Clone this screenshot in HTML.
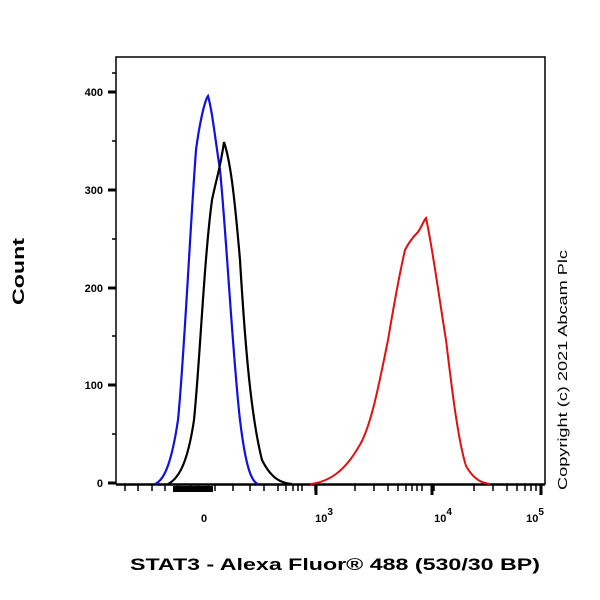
<!DOCTYPE html><html><head><style>body{margin:0;background:#fff}svg{display:block}text{font-family:"Liberation Sans",Arial,sans-serif}</style></head><body>
<svg width="600" height="600" viewBox="0 0 600 600">
<rect x="116" y="57" width="429" height="427" fill="none" stroke="#000" stroke-width="1.5"/>
<g stroke="#000" stroke-width="1.5">
<line x1="108" y1="483" x2="116" y2="483" stroke-width="3"/><line x1="108" y1="385" x2="116" y2="385" stroke-width="3"/><line x1="108" y1="288" x2="116" y2="288" stroke-width="3"/><line x1="108" y1="190" x2="116" y2="190" stroke-width="3"/><line x1="108" y1="92" x2="116" y2="92" stroke-width="3"/>
<line x1="112" y1="434" x2="116" y2="434"/><line x1="112" y1="336" x2="116" y2="336"/><line x1="112" y1="239" x2="116" y2="239"/><line x1="112" y1="141" x2="116" y2="141"/><line x1="112" y1="73" x2="116" y2="73"/>
<line x1="116" y1="485" x2="545" y2="485"/>
</g>
<g stroke="#000" stroke-width="1.5">
<path d="M125 485v6M138 485v6M152 485v6M165 485v6M178 485v6M191 485v6M198 485v6M208 485v6M215 485v6M233 485v6M250 485v6M264 485v6M278 485v6M286 485v6M293 485v6M298 485v6M302 485v6M315 485v6M355 485v6M374 485v6M388 485v6M398 485v6M406 485v6M412 485v6M417 485v6M422 485v6M434 485v6M474 485v6M493 485v6M507 485v6M517 485v6M525 485v6M531 485v6M536 485v6"/>
<path d="M316 485v10M432 485v10M541 485v10" stroke-width="3"/>
<path d="M173 486h40v6h-40z" fill="#000" stroke="none"/>
</g>
<path d="M155 484 C165 480,172 460,178 420 C184 360,190 230,196 150 C200 120,205 100,208 96 C212 110,214 130,220 170 C226 230,233 360,240 420 C246 470,252 482,258 484" fill="none" stroke="#1010e0" stroke-width="2.2"/>
<path d="M168 484 C180 478,188 460,194 420 C200 360,204 260,212 200 C216 180,220 170,224 142 C230 160,234 190,240 260 C246 360,252 420,262 460 C272 480,282 483,292 484" fill="none" stroke="#000" stroke-width="2.2"/>
<path d="M310 484 C330 482,345 470,358 448 C370 430,378 390,388 340 C394 305,398 280,405 250 C410 240,415 235,418 232 C421 228,424 220,426 218 C432 245,438 290,446 340 C452 390,458 440,466 466 C474 480,482 483,490 484" fill="none" stroke="#e01010" stroke-width="2"/>
<g font-size="11" font-weight="bold" text-anchor="end"><text x="103" y="487">0</text><text x="103" y="389">100</text><text x="103" y="292">200</text><text x="103" y="194">300</text><text x="103" y="96">400</text></g>
<g font-size="11" font-weight="bold" text-anchor="middle"><text x="204" y="522">0</text>
<text x="324" y="522">10<tspan dy="-7" font-size="10">3</tspan></text>
<text x="443" y="522">10<tspan dy="-7" font-size="10">4</tspan></text>
<text x="535" y="522">10<tspan dy="-7" font-size="10">5</tspan></text></g>
<text x="24" y="305" font-size="17" font-weight="bold" textLength="67" lengthAdjust="spacingAndGlyphs" transform="rotate(-90 24 305)">Count</text>
<text x="130" y="570" font-size="17" font-weight="bold" textLength="410" lengthAdjust="spacingAndGlyphs">STAT3 - Alexa Fluor® 488 (530/30 BP)</text>
<text x="567" y="490" font-size="13" textLength="240" lengthAdjust="spacingAndGlyphs" transform="rotate(-90 567 490)">Copyright (c) 2021 Abcam Plc</text>
</svg></body></html>
